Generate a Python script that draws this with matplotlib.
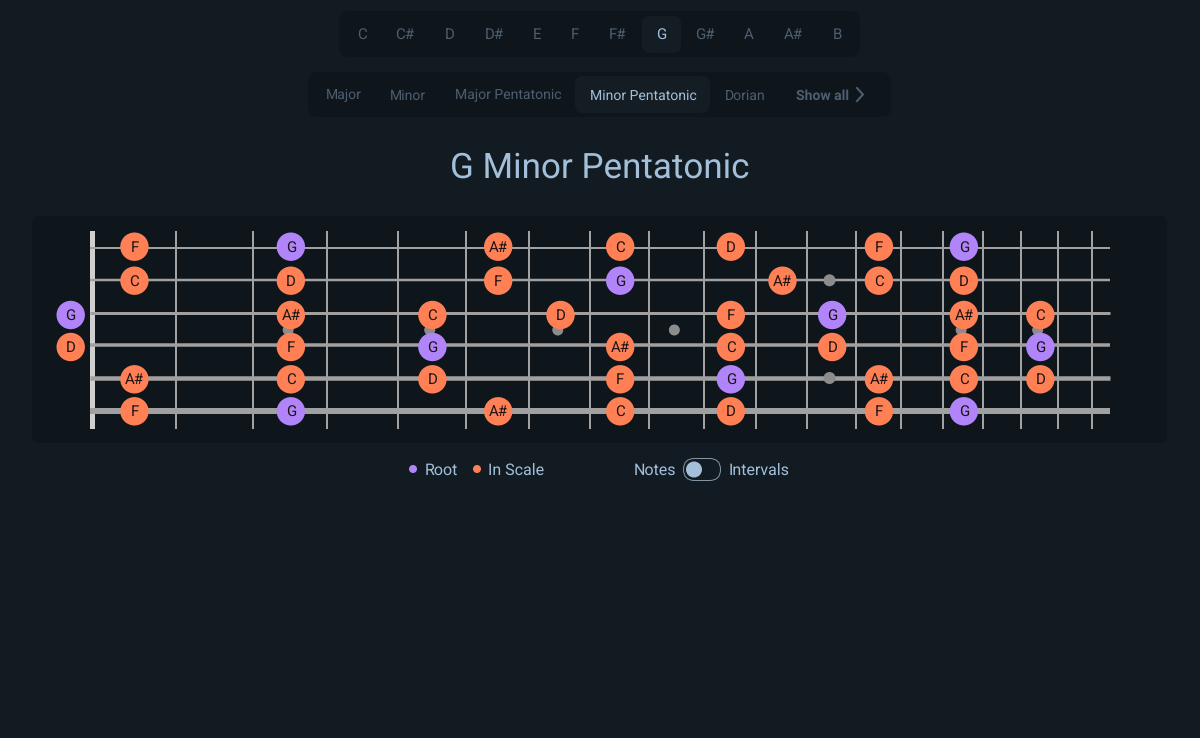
import matplotlib
matplotlib.use("Agg")
import matplotlib.pyplot as plt
from matplotlib.patches import Circle, FancyBboxPatch, Rectangle

plt.rcParams["text.hinting"] = "no_hinting"
plt.rcParams["text.hinting_factor"] = 1

BG = "#121b22"
PANEL = "#0e151b"
ACTIVE = "#141d24"
MUTED = "#4c5f70"
LIGHT = "#a3bfd9"
ORANGE = "#ff8055"
PURPLE = "#b185f9"
INK = "#1c1414"
FONT = "Roboto"

keys = ["C", "C#", "D", "D#", "E", "F", "F#", "G", "G#", "A", "A#", "B"]
key_x = [362, 405, 450, 494, 537, 575, 618, 661, 705, 749, 793, 837]
scales = ["Major", "Minor", "Major Pentatonic", "Minor Pentatonic", "Dorian"]
scale_x = [344, 408, 508, 643, 745]
title = "G Minor Pentatonic"

nut_x = 92
fret_x = [175.5, 253.3, 327, 397.7, 465.7, 529.3, 590.3, 648.7, 704, 756.3,
          807.3, 855.7, 900.7, 943.3, 983, 1021.3, 1058, 1092]
string_y = [247.7, 280.3, 313, 345.3, 378, 410.7]
string_px = [2, 2.5, 3, 3.5, 4.5, 6]
note_y = [246.7, 280.7, 315, 347, 379.3, 411.3]

# (fret, note) per string, fret 0 is the open string
string_1 = [(1, "F"), (3, "G"), (6, "A#"), (8, "C"), (10, "D"), (13, "F"), (15, "G")]
string_2 = [(1, "C"), (3, "D"), (6, "F"), (8, "G"), (11, "A#"), (13, "C"), (15, "D")]
string_3 = [(0, "G"), (3, "A#"), (5, "C"), (7, "D"), (10, "F"), (12, "G"), (15, "A#"), (17, "C")]
string_4 = [(0, "D"), (3, "F"), (5, "G"), (8, "A#"), (10, "C"), (12, "D"), (15, "F"), (17, "G")]
string_5 = [(1, "A#"), (3, "C"), (5, "D"), (8, "F"), (10, "G"), (13, "A#"), (15, "C"), (17, "D")]
string_6 = [(1, "F"), (3, "G"), (6, "A#"), (8, "C"), (10, "D"), (13, "F"), (15, "G")]
strings = [string_1, string_2, string_3, string_4, string_5, string_6]
root = "G"

inlay_frets = [3, 5, 7, 9, 15, 17]
double_inlay_fret = 12


def px(size):
  return size * 0.72


def fret_mid(fret):
  if fret == 0:
    return 70
  left = nut_x if fret == 1 else fret_x[fret - 2]
  return (left + fret_x[fret - 1]) / 2


def panel(ax, x0, y0, x1, y1, color, r=8, z=1):
  ax.add_patch(FancyBboxPatch((x0 + r, y0 + r), x1 - x0 - 2 * r, y1 - y0 - 2 * r,
                              boxstyle="round,pad=%d,rounding_size=%d" % (r, r),
                              fc=color, ec="none", zorder=z))


fig = plt.figure(figsize=(12, 7.38), dpi=100, facecolor=BG)
ax = fig.add_axes([0, 0, 1, 1])
ax.set_xlim(0, 1200)
ax.set_ylim(738, 0)
ax.axis("off")

# key picker
panel(ax, 339, 11, 860, 57, PANEL, r=10)
panel(ax, 642, 16, 681, 53, ACTIVE)
for k, x in zip(keys, key_x):
  ax.text(x, 39, k, color=LIGHT if k == root else MUTED, fontsize=px(14.5), family=FONT,
          ha="center", va="baseline")

# scale picker
panel(ax, 308, 72, 891, 117, PANEL, r=10)
panel(ax, 575, 76, 710, 113, ACTIVE)
for s, x in zip(scales, scale_x):
  ax.text(x, 99.5, s, color=LIGHT if s == "Minor Pentatonic" else MUTED, fontsize=px(14),
          family=FONT, ha="center", va="baseline")
ax.text(823, 99.5, "Show all", color=MUTED, fontsize=px(14), family=FONT, weight="bold",
        ha="center", va="baseline")
ax.plot([857, 863, 857], [88, 94.5, 101], color=MUTED, lw=px(2), zorder=3)

ax.text(599.5, 178, title, color=LIGHT, fontsize=px(35), family=FONT, ha="center", va="baseline")

# fretboard
panel(ax, 32, 216, 1167, 443, PANEL, r=8)
ax.add_patch(Rectangle((89.5, 230.7), 5.5, 198.6, fc="#cfcfcf", ec="none", zorder=2))
for x in fret_x:
  ax.plot([x, x], [230.7, 429.3], color="#a2a2a2", lw=px(2), solid_capstyle="butt", zorder=2)
for y, w in zip(string_y, string_px):
  ax.plot([89.5, 1109.7], [y, y], color="#a0a0a0", lw=px(w), solid_capstyle="butt", zorder=3)

for f in inlay_frets:
  ax.add_patch(Circle((fret_mid(f) - 2, 330), 5.5, fc="#8c8c8c", ec="none", zorder=4))
for y in [string_y[1], string_y[4]]:
  ax.add_patch(Circle((fret_mid(double_inlay_fret) - 2, y), 6, fc="#8c8c8c", ec="none", zorder=4))

for notes, y in zip(strings, note_y):
  for fret, name in notes:
    x = fret_mid(fret) + 0.7
    ax.add_patch(Circle((x, y), 14.2, fc=PURPLE if name == root else ORANGE, ec="none", zorder=5))
    ax.text(x, y + 5, name, color=INK, fontsize=px(15), family=FONT, ha="center",
            va="baseline", zorder=6)

# legend and toggle
ax.add_patch(Circle((413, 469), 4, fc=PURPLE, ec="none"))
ax.text(425, 474.5, "Root", color=LIGHT, fontsize=px(16), family=FONT, ha="left", va="baseline")
ax.add_patch(Circle((477, 469), 4, fc=ORANGE, ec="none"))
ax.text(488, 474.5, "In Scale", color=LIGHT, fontsize=px(16), family=FONT, ha="left", va="baseline")
ax.text(676, 474.5, "Notes", color=LIGHT, fontsize=px(16), family=FONT, ha="right", va="baseline")
ax.add_patch(FancyBboxPatch((694.5, 469.5), 15, 0, boxstyle="round,pad=11,rounding_size=11",
                            fc=BG, ec="#8595a3", lw=px(1)))
ax.add_patch(Circle((694, 469.5), 8, fc=LIGHT, ec="none", zorder=3))
ax.text(729, 474.5, "Intervals", color=LIGHT, fontsize=px(16), family=FONT, ha="left", va="baseline")

fig.savefig("out.png", dpi=100, facecolor=BG)
